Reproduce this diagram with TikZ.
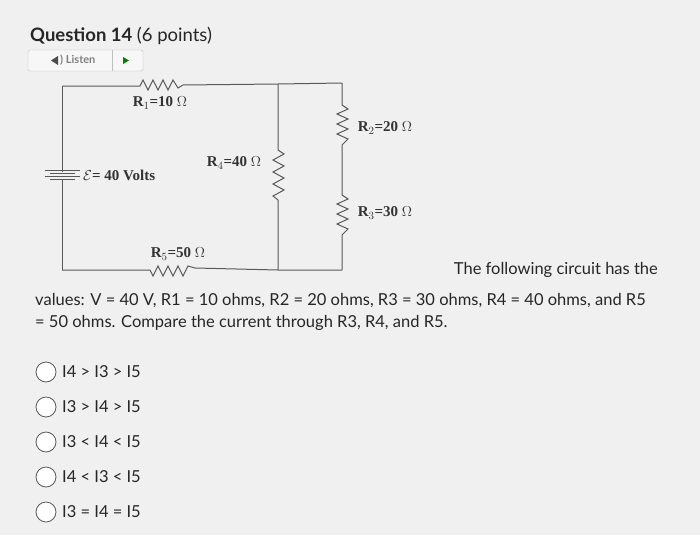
\documentclass[tikz,border=0pt]{standalone}
\usepackage{fontspec}
\setmainfont{Liberation Serif}
\newfontfamily\uifont{Lato}
\begin{document}
\begin{tikzpicture}[x=1pt,y=-1pt,
  wire/.style={gray!70!black,line width=1pt},
  lbl/.style={font=\fontsize{15}{17}\selectfont\bfseries,text=black!80,inner sep=1pt},
  ui/.style={font=\uifont\fontsize{16.5}{19}\selectfont,text=black!85,inner sep=0pt,anchor=west},
  radio/.style={circle,draw=gray!70!black,line width=0.8pt,fill=white,minimum size=20pt,inner sep=0pt}]
\fill[black!6] (0,0) rectangle (700,535);
\useasboundingbox (0,0) rectangle (700,535);
\node[ui,font=\uifont\bfseries\fontsize{18.5}{20}\selectfont] (q) at (30,36) {Question 14 \textmd{(6 points)}};
\draw[gray!50,fill=black!3,rounded corners=2pt] (28,50) rectangle (143,71);
\draw[gray!50] (112,50) -- (112,71);
\fill[black!70] (51,60.5) -- (58,56) -- (58,65) -- cycle;
\node[ui,font=\uifont\bfseries\fontsize{11}{12}\selectfont,text=gray] (ls) at (60,60.5) {) Listen};
\fill[green!50!black] (123,57) -- (129,60.5) -- (123,64) -- cycle;
% circuit coordinates
\coordinate (tl) at (62,86); \coordinate (tm) at (278,84); \coordinate (tr) at (342,83);
\coordinate (bl) at (62,270); \coordinate (bm) at (278,270); \coordinate (br) at (342,270);
\coordinate (bt) at (62,172); \coordinate (bb) at (62,180);
\draw[wire] (tl) -- (bt);
\draw[wire] (bb) -- (bl);
\draw[wire] (45,170) -- (80,170);
\draw[wire] (50,173) -- (75,173);
\draw[wire] (45,176) -- (80,176);
\draw[wire] (50,179) -- (75,179);
\draw[wire] (tl) -- (140,86) -- (143,80) -- (148,90) -- (153,80) -- (158,90) -- (163,80) -- (168,90) -- (173,80) -- (178,88) -- (183,85) -- (tm) -- (tr);
\draw[wire] (tm) -- (278,150) -- (284,154) -- (273,160) -- (284,166) -- (273,172) -- (284,178) -- (273,184) -- (284,190) -- (273,196) -- (278,200) -- (bm);
\draw[wire] (tr) -- (342,105) -- (348,109) -- (337,114) -- (348,119) -- (337,124) -- (348,129) -- (337,134) -- (348,139) -- (342,145) -- (342,195) -- (348,199) -- (337,204) -- (348,209) -- (337,214) -- (348,219) -- (337,224) -- (348,229) -- (342,235) -- (br);
\draw[wire] (bl) -- (150,270) -- (153,276) -- (158,266) -- (163,276) -- (168,266) -- (173,276) -- (178,266) -- (183,276) -- (188,266) -- (195,268) -- (bm) -- (br);
\node[lbl] (r1) at (160,103) {R$_1$=10 $\Omega$};
\node[lbl] (r2) at (385,128) {R$_2$=20 $\Omega$};
\node[lbl] (r4) at (234,163) {R$_4$=40 $\Omega$};
\node[lbl] (r3) at (385,213) {R$_3$=30 $\Omega$};
\node[lbl] (r5) at (178,254) {R$_5$=50 $\Omega$};
\node[lbl,anchor=west] (e) at (82,175) {$\mathcal{E}$= 40 Volts};
\node[ui,anchor=east] (t1) at (658,270) {The following circuit has the};
\node[ui] (t2) at (35,301) {values: V = 40 V, R1 = 10 ohms, R2 = 20 ohms, R3 = 30 ohms, R4 = 40 ohms, and R5};
\node[ui] (t3) at (35,323) {= 50 ohms. Compare the current through R3, R4, and R5.};
\foreach \y/\t [count=\i] in {372/{I4 > I3 > I5},407/{I3 > I4 > I5},442/{I3 < I4 < I5},477/{I4 < I3 < I5},512/{I3 = I4 = I5}}{
  \node[radio] (c\i) at (46,\y) {};
  \node[ui] (o\i) at (62,\y) {\t};
}
\end{tikzpicture}
\end{document}
